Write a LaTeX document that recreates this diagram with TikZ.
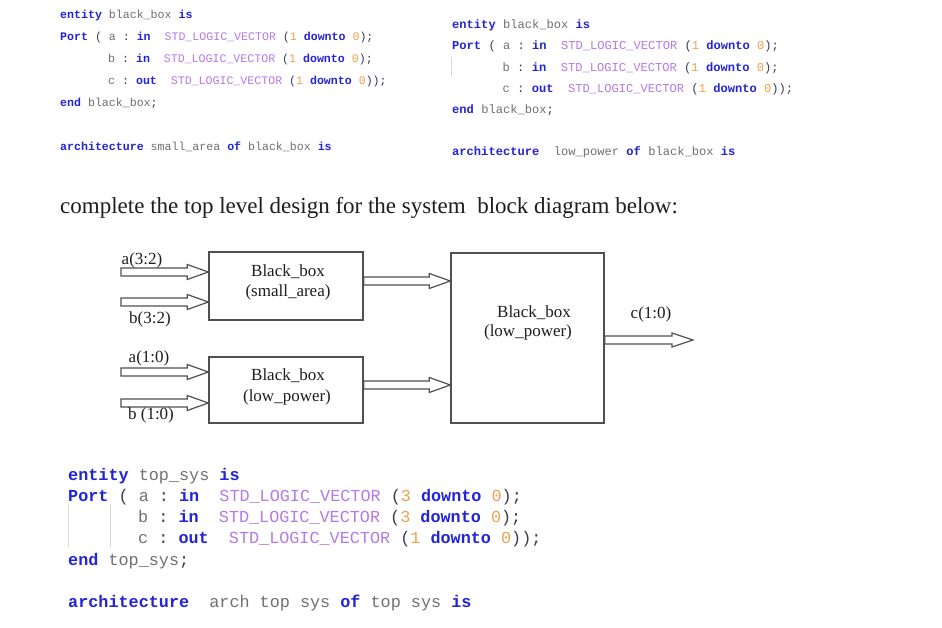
\documentclass[tikz,border=0pt]{standalone}
\usepackage{fontspec}
\setmainfont{Liberation Serif}
\setmonofont{Liberation Mono}
\usetikzlibrary{calc}
\definecolor{kwc}{HTML}{2323D9}
\definecolor{idc}{HTML}{707070}
\definecolor{tyc}{HTML}{B47AE8}
\definecolor{nmc}{HTML}{F0A050}
\definecolor{pnc}{HTML}{3A3A55}
\definecolor{linec}{HTML}{505050}
\definecolor{txtc}{HTML}{1E1E1E}
\definecolor{guidec}{HTML}{D8D8D8}
\newcommand\kw[1]{\textcolor{kwc}{\bfseries #1}}
\newcommand\idt[1]{\textcolor{idc}{#1}}
\newcommand\ty[1]{\textcolor{tyc}{#1}}
\newcommand\nm[1]{\textcolor{nmc}{#1}}
\newcommand\pn[1]{\textcolor{pnc}{#1}}
\newcommand\hollowarr[3][7.5]{%
  \draw[arrline] let \p1=(#2), \p2=(#3) in
    (\x1,{\y1+4pt}) -- ({\x2-21pt},{\y1+4pt}) -- ({\x2-21pt},{\y1+#1pt}) --
    (\x2,\y1) -- ({\x2-21pt},{\y1-#1pt}) -- ({\x2-21pt},{\y1-4pt}) --
    (\x1,{\y1-4pt}) -- cycle;}
\tikzset{
  codeS/.style={anchor=base west, inner sep=0pt, font=\ttfamily\fontsize{11.6}{13}\selectfont},
  codeM/.style={anchor=base west, inner sep=0pt, font=\ttfamily\fontsize{12.1}{14}\selectfont},
  codeL/.style={anchor=base west, inner sep=0pt, font=\ttfamily\fontsize{16.8}{19}\selectfont},
  blk/.style={draw=linec, line width=1.4pt, inner sep=0pt},
  lbl/.style={inner sep=0pt, text=txtc, font=\fontsize{17}{20}\selectfont},
  arrline/.style={draw=linec, line width=1.2pt, fill=white},
  guide/.style={draw=guidec, line width=0.8pt}
}
\begin{document}
\begin{tikzpicture}[x=1pt,y=-1pt]
\useasboundingbox[fill=white] (0,0) rectangle (942,628);

% ---- top-left code
\node[codeS] (tl1) at (60,19) {\kw{entity} \idt{black\_box} \kw{is}};
\node[codeS] (tl2) at (60,40.5) {\kw{Port} \pn{(} \idt{a} \pn{:} \kw{in}~ \ty{STD\_LOGIC\_VECTOR} \pn{(}\nm{1} \kw{downto} \nm{0}\pn{);}};
\node[codeS] (tl3) at (108,62.5) {\idt{b} \pn{:} \kw{in}~ \ty{STD\_LOGIC\_VECTOR} \pn{(}\nm{1} \kw{downto} \nm{0}\pn{);}};
\node[codeS] (tl4) at (108,85) {\idt{c} \pn{:} \kw{out}~ \ty{STD\_LOGIC\_VECTOR} \pn{(}\nm{1} \kw{downto} \nm{0}\pn{));}};
\node[codeS] (tl5) at (60,107) {\kw{end} \idt{black\_box}\pn{;}};
\node[codeS] (tl6) at (60,151) {\kw{architecture} \idt{small\_area} \kw{of} \idt{black\_box} \kw{is}};

% ---- top-right code
\node[codeM] (tr1) at (452,29) {\kw{entity} \idt{black\_box} \kw{is}};
\node[codeM] (tr2) at (452,49.5) {\kw{Port} \pn{(} \idt{a} \pn{:} \kw{in}~ \ty{STD\_LOGIC\_VECTOR} \pn{(}\nm{1} \kw{downto} \nm{0}\pn{);}};
\node[codeM] (tr3) at (502.5,71.5) {\idt{b} \pn{:} \kw{in}~ \ty{STD\_LOGIC\_VECTOR} \pn{(}\nm{1} \kw{downto} \nm{0}\pn{);}};
\node[codeM] (tr4) at (502.5,93) {\idt{c} \pn{:} \kw{out}~ \ty{STD\_LOGIC\_VECTOR} \pn{(}\nm{1} \kw{downto} \nm{0}\pn{));}};
\node[codeM] (tr5) at (452,113.5) {\kw{end} \idt{black\_box}\pn{;}};
\node[codeM] (tr6) at (452,155.5) {\kw{architecture}~ \idt{low\_power} \kw{of} \idt{black\_box} \kw{is}};
\coordinate (g0a) at (451,57); \coordinate (g0b) at (451,77);
\draw[guide] (g0a) -- (g0b);

% ---- heading
\node[anchor=base west, inner sep=0pt, text=txtc, font=\fontsize{23}{26}\selectfont] (head) at (60,214)
  {complete the top level design for the system\ \ block diagram below:};

% ---- block diagram
\node[blk, minimum width=154pt, minimum height=68pt] (box1) at (286,286) {};
\node[blk, minimum width=154pt, minimum height=66pt] (box2) at (286,390) {};
\node[blk, minimum width=153pt, minimum height=170pt] (big) at (527.5,338) {};

\node[lbl] (b1a) at (288,272) {Black\_box};
\node[lbl] (b1b) at (288,292.5) {(small\_area)};
\node[lbl] (b2a) at (288,376) {Black\_box};
\node[lbl] (b2b) at (287,397) {(low\_power)};
\node[lbl] (b3a) at (534,313) {Black\_box};
\node[lbl] (b3b) at (528,332.5) {(low\_power)};

% inputs
\coordinate (ia32) at (121,272);
\coordinate (ib32) at (121,302);
\coordinate (ia10) at (121,372);
\coordinate (ib10) at (121,403);
\hollowarr{ia32}{box1.west |- ia32}
\hollowarr{ib32}{box1.west |- ib32}
\hollowarr{ia10}{box2.west |- ia10}
\hollowarr{ib10}{box2.west |- ib10}

\node[lbl] (la32) at (142,260) {a(3:2)};
\node[lbl] (lb32) at (150,319.5) {b(3:2)};
\node[lbl] (la10) at (149,358) {a(1:0)};
\node[lbl] (lb10) at (151,415) {b (1:0)};

% box-to-box
\path (box1.east) ++(0,-5) coordinate (o1);
\path (box2.east) ++(0,-5) coordinate (o2);
\hollowarr{o1}{big.west |- o1}
\hollowarr{o2}{big.west |- o2}

% output
\path (big.east) ++(0,2) coordinate (oc);
\coordinate (cend) at (693,340);
\hollowarr[7]{oc}{cend}
\node[lbl] (lc) at (651,314) {c(1:0)};

% ---- bottom code
\node[codeL] (bt1) at (68,480.5) {\kw{entity} \idt{top\_sys} \kw{is}};
\node[codeL] (bt2) at (68,501.5) {\kw{Port} \pn{(} \idt{a} \pn{:} \kw{in}~ \ty{STD\_LOGIC\_VECTOR} \pn{(}\nm{3} \kw{downto} \nm{0}\pn{);}};
\node[codeL] (bt3) at (138,522.5) {\idt{b} \pn{:} \kw{in}~ \ty{STD\_LOGIC\_VECTOR} \pn{(}\nm{3} \kw{downto} \nm{0}\pn{);}};
\node[codeL] (bt4) at (138,543.5) {\idt{c} \pn{:} \kw{out}~ \ty{STD\_LOGIC\_VECTOR} \pn{(}\nm{1} \kw{downto} \nm{0}\pn{));}};
\node[codeL] (bt5) at (68,565) {\kw{end} \idt{top\_sys}\pn{;}};
\node[codeL] (bt6) at (68,607.5) {\kw{architecture}~ \idt{arch top sys} \kw{of} \idt{top sys} \kw{is}};
\coordinate (g1a) at (68.5,504); \coordinate (g1b) at (68.5,547);
\coordinate (g2a) at (110,504); \coordinate (g2b) at (110,547);
\draw[guide] (g1a) -- (g1b);
\draw[guide] (g2a) -- (g2b);
\end{tikzpicture}
\end{document}
